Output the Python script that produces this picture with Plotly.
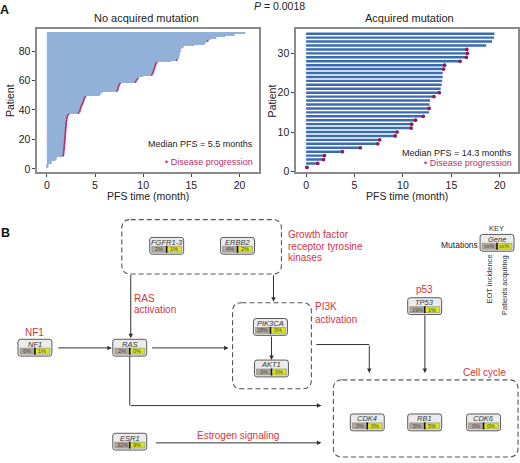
import plotly.graph_objects as go

# ---------------- data ----------------
# Panel A, left: no acquired mutation (patient 1 .. 92), PFS in months
left_pfs = [0.1, 0.15, 0.2, 0.5, 0.5, 0.9, 1.0, 1.05, 1.7, 1.72,
            1.75, 1.75, 1.78, 1.8, 1.8, 1.82, 1.83, 1.85, 1.85, 1.87,
            1.88, 1.9, 1.9, 1.92, 1.93, 1.95, 1.95, 1.97, 1.98, 2.0,
            2.0, 2.02, 2.05, 2.08, 2.1, 2.15, 2.25, 3.3, 3.4, 3.45,
            3.5, 3.55, 3.6, 3.7, 3.75, 3.8, 3.85, 3.9, 4.0, 5.5,
            5.6, 5.8, 7.3, 7.35, 7.4, 7.45, 7.5, 7.6, 9.2, 9.3,
            9.4, 9.6, 10.0, 10.9, 11.0, 11.05, 11.1, 11.15, 11.2, 11.25,
            11.3, 11.4, 12.9, 13.5, 13.7, 13.75, 13.8, 13.8, 13.85, 13.9,
            13.9, 14.0, 14.2, 15.3, 16.4, 16.6, 16.7, 17.0, 17.6, 18.5,
            19.5, 20.6]
left_event = [0, 0, 0, 0, 0, 0, 0, 0, 1, 1,
              1, 1, 1, 1, 1, 1, 1, 1, 1, 1,
              1, 1, 1, 1, 1, 1, 1, 1, 1, 1,
              1, 1, 1, 1, 1, 1, 1, 1, 1, 1,
              1, 1, 1, 1, 1, 1, 1, 1, 1, 0,
              0, 0, 1, 1, 1, 1, 1, 1, 1, 1,
              1, 0, 0, 1, 1, 1, 1, 1, 1, 1,
              1, 1, 0, 1, 0, 0, 0, 0, 0, 0,
              0, 0, 0, 0, 0, 0, 1, 0, 0, 0,
              0, 0]

# Panel A, right: acquired mutation (patient 1 .. 35)
right_pfs = [0.1, 1.2, 1.8, 1.9, 3.75, 5.6, 7.4, 7.6, 9.2, 9.4,
             10.85, 10.9, 11.3, 12.1, 12.7, 12.7, 12.75, 12.8, 13.2, 13.75,
             13.9, 14.0, 14.05, 14.1, 14.1, 14.2, 14.3, 15.9, 16.55, 16.65,
             16.6, 18.6, 19.2, 19.4, 19.45]
right_event = [1, 1, 1, 1, 1, 1, 1, 1, 1, 1,
               1, 1, 1, 1, 0, 1, 0, 0, 1, 1,
               0, 0, 0, 0, 0, 1, 1, 1, 1, 1,
               1, 0, 0, 0, 0]

x_ticks = [0, 5, 10, 15, 20]
left_y_ticks = [0, 20, 40, 60, 80]
right_y_ticks = [0, 10, 20, 30]

median_left = "Median PFS = 5.5 months"
median_right = "Median PFS = 14.3 months"
p_value = "0.0018"

# Panel B: genes, EOT incidence, patients acquiring
genes = ["FGFR1-3", "ERBB2", "NF1", "RAS", "PIK3CA", "AKT1", "TP53",
         "CDK4", "RB1", "CDK6", "ESR1"]
eot_incidence = ["2%", "4%", "6%", "2%", "28%", "3%", "19%", "0%", "5%", "0%", "32%"]
acquiring = ["1%", "2%", "1%", "0%", "0%", "0%", "1%", "0%", "5%", "0%", "9%"]

# ---------------- layout helpers ----------------
W, H = 520, 463
FONT = "Liberation Sans, Arial, sans-serif"
RED = "#d8333f"
MAG = "#b8306f"


def X(px):
    return px / W


def Y(py):
    return 1 - py / H


annotations = []
shapes = []


def text(x, y, s, size=10, color="#222", xanchor="center", yanchor="middle", angle=0):
    annotations.append(dict(x=X(x), y=Y(y), xref="paper", yref="paper", text=s,
                            showarrow=False, xanchor=xanchor, yanchor=yanchor,
                            textangle=angle, borderpad=0,
                            font=dict(family=FONT, size=size, color=color)))


def arrow(tx, ty, hx, hy):
    annotations.append(dict(x=X(hx), y=Y(hy), xref="paper", yref="paper",
                            ax=tx - hx, ay=ty - hy, axref="pixel", ayref="pixel",
                            text="", showarrow=True, arrowhead=2, arrowsize=0.9,
                            arrowwidth=1, arrowcolor="#333", standoff=0, startstandoff=0))


def line(x0, y0, x1, y1, color="#333", width=1):
    shapes.append(dict(type="line", xref="paper", yref="paper",
                       x0=X(x0), y0=Y(y0), x1=X(x1), y1=Y(y1),
                       line=dict(color=color, width=width)))


def rrect(x0, y0, x1, y1, r, fill="rgba(0,0,0,0)", color="#555", width=1, dash="solid"):
    p = (f"M {X(x0 + r)},{Y(y0)} L {X(x1 - r)},{Y(y0)} Q {X(x1)},{Y(y0)} {X(x1)},{Y(y0 + r)} "
         f"L {X(x1)},{Y(y1 - r)} Q {X(x1)},{Y(y1)} {X(x1 - r)},{Y(y1)} "
         f"L {X(x0 + r)},{Y(y1)} Q {X(x0)},{Y(y1)} {X(x0)},{Y(y1 - r)} "
         f"L {X(x0)},{Y(y0 + r)} Q {X(x0)},{Y(y0)} {X(x0 + r)},{Y(y0)} Z")
    shapes.append(dict(type="path", xref="paper", yref="paper", path=p,
                       fillcolor=fill, line=dict(color=color, width=width, dash=dash)))


def rect(x0, y0, x1, y1, fill, color="#777", width=0.5):
    shapes.append(dict(type="rect", xref="paper", yref="paper",
                       x0=X(x0), y0=Y(y0), x1=X(x1), y1=Y(y1),
                       fillcolor=fill, line=dict(color=color, width=width)))


def gene_box(cx, top, name, a, b):
    w, h = 34, 17
    x0, x1 = cx - w / 2, cx + w / 2
    rrect(x0, top, x1, top + h, 2.5, fill="#ebebeb", color="#5a5a5a", width=1)
    rect(x0 + 2, top + 9, cx, top + 15, "#b2a899")
    rect(cx, top + 9, x1 - 2, top + 15, "#dce41f")
    line(cx, top + 8.5, cx, top + 15.5, color="#111", width=1.5)
    text(cx, top + 4.8, f"<i>{name}</i>", size=7.5, color="#333")
    text((x0 + 2 + cx) / 2, top + 12.1, a, size=5.5, color="#444")
    text((cx + x1 - 2) / 2, top + 12.1, b, size=5.5, color="#444")


# ---------------- panel A ----------------
fig = go.Figure()

left_n = list(range(1, len(left_pfs) + 1))
right_n = list(range(1, len(right_pfs) + 1))

fig.add_trace(go.Bar(x=left_pfs, y=left_n, orientation="h", width=0.6,
                     marker=dict(color="#91b1d9", line=dict(width=0)),
                     xaxis="x", yaxis="y", showlegend=False))
fig.add_trace(go.Scatter(x=[v for v, e in zip(left_pfs, left_event) if e],
                         y=[n for n, e in zip(left_n, left_event) if e],
                         mode="markers", marker=dict(color=MAG, size=2.0),
                         xaxis="x", yaxis="y", showlegend=False))
fig.add_trace(go.Bar(x=right_pfs, y=right_n, orientation="h", width=0.62,
                     marker=dict(color="#3a6cb4", line=dict(width=0)),
                     xaxis="x2", yaxis="y2", showlegend=False))
fig.add_trace(go.Scatter(x=[v for v, e in zip(right_pfs, right_event) if e],
                         y=[n for n, e in zip(right_n, right_event) if e],
                         mode="markers", marker=dict(color="#8c1f58", size=3.7),
                         xaxis="x2", yaxis="y2", showlegend=False))

ax_common = dict(showline=True, mirror=True, linecolor="#8a8a8a", linewidth=1.5,
                 ticks="outside", ticklen=3, tickcolor="#444", tickwidth=1,
                 showgrid=False, zeroline=False,
                 tickfont=dict(family=FONT, size=10.5, color="#222"))
ydom = [Y(174), Y(29.3)]

# ---------------- panel A text ----------------
text(5, 10, "<b>A</b>", size=12.5, color="#111")
text(280, 6.5, f"<i>P</i> = {p_value}", size=10.5, color="#222")
text(146.5, 18.3, "No acquired mutation", size=11, color="#222")
text(410.5, 18.3, "Acquired mutation", size=11, color="#222")
text(148.3, 197.8, "PFS time (month)", size=10.5, color="#222")
text(408, 197.8, "PFS time (month)", size=10.5, color="#222")
text(9.5, 101.7, "Patient", size=10.5, color="#222", angle=-90)
text(272, 102, "Patient", size=10.5, color="#222", angle=-90)
text(254.5, 145.7, median_left, size=9, color="#222", xanchor="right")
text(254.5, 164, "\u2022 Disease progression", size=9, color=MAG, xanchor="right")
text(514, 155, median_right, size=9, color="#222", xanchor="right")
text(514, 164.3, "\u2022 Disease progression", size=9, color=MAG, xanchor="right")

# ---------------- panel B ----------------
text(6, 236, "<b>B</b>", size=12.5, color="#111")

dash = "5px,3px"
rrect(122, 222, 282, 277, 9, color="#555", width=1.1, dash=dash)
rrect(233, 306, 312, 393, 9, color="#555", width=1.1, dash=dash)
rrect(334, 384, 519, 462, 9, color="#555", width=1.1, dash=dash)

positions = {"FGFR1-3": (167, 240), "ERBB2": (238, 240), "NF1": (35, 343),
             "RAS": (130, 343), "PIK3CA": (271, 322), "AKT1": (272, 364),
             "TP53": (425.5, 301), "CDK4": (368, 418.5), "RB1": (425.5, 418.5),
             "CDK6": (484.5, 418.5), "ESR1": (130, 438)}
for g, a, b in zip(genes, eot_incidence, acquiring):
    cx, top = positions[g]
    gene_box(cx, top, g, a, b)

# arrows
arrow(131, 277, 131, 342)
arrow(274, 277, 274, 305)
arrow(57, 351.7, 112, 351.7)
arrow(151, 351.7, 229, 351.7)
arrow(272, 339, 272, 364)
line(317, 348.3, 370, 348.3)
arrow(370, 348.3, 370, 377)
arrow(425.7, 318, 425.7, 377)
line(130, 360, 130, 410)
arrow(130, 410, 322, 410)
arrow(155, 447.7, 322, 447.7)

# red labels
text(288, 236.7, "Growth factor", size=10, color=RED, xanchor="left")
text(288, 248.7, "receptor tyrosine", size=10, color=RED, xanchor="left")
text(288, 260.7, "kinases", size=10, color=RED, xanchor="left")
text(133.7, 301.7, "RAS", size=10, color=RED, xanchor="left")
text(133.7, 313.3, "activation", size=10, color=RED, xanchor="left")
text(35, 336, "NF1", size=10, color=RED)
text(315, 310, "PI3K", size=10, color=RED, xanchor="left")
text(315, 322.7, "activation", size=10, color=RED, xanchor="left")
text(425.7, 292.7, "p53", size=10, color=RED)
text(485, 376.8, "Cell cycle", size=10, color=RED)
text(196.7, 440, "Estrogen signaling", size=10, color=RED, xanchor="left")

# key
text(497.5, 231, "KEY", size=7.5, color="#333")
gene_box(498, 237, "Gene", "xx%", "xx%")
text(479.5, 247.3, "Mutations", size=8.5, color="#222", xanchor="right")
text(490, 282.5, "EOT incidence", size=7.5, color="#333", angle=-90)
text(506, 288, "Patients acquiring", size=7.5, color="#333", angle=-90)

fig.update_layout(
    width=W, height=H, margin=dict(l=0, r=0, t=0, b=0),
    paper_bgcolor="white", plot_bgcolor="white", showlegend=False,
    barmode="overlay",
    xaxis=dict(domain=[X(37.3), X(259.3)], range=[-1, 22], tickvals=x_ticks,
               anchor="y", **ax_common),
    yaxis=dict(domain=ydom, range=[-2.2, 95], tickvals=left_y_ticks,
               anchor="x", **ax_common),
    xaxis2=dict(domain=[X(296.7), X(519.2)], range=[-1.03, 21.9], tickvals=x_ticks,
                anchor="y2", **ax_common),
    yaxis2=dict(domain=ydom, range=[-0.2, 36.2], tickvals=right_y_ticks,
                anchor="x2", **ax_common),
    annotations=annotations, shapes=shapes,
)

fig.write_html("out.html", config={"displayModeBar": False},
               post_script="document.body.style.margin='0px';document.body.style.overflow='hidden';")
